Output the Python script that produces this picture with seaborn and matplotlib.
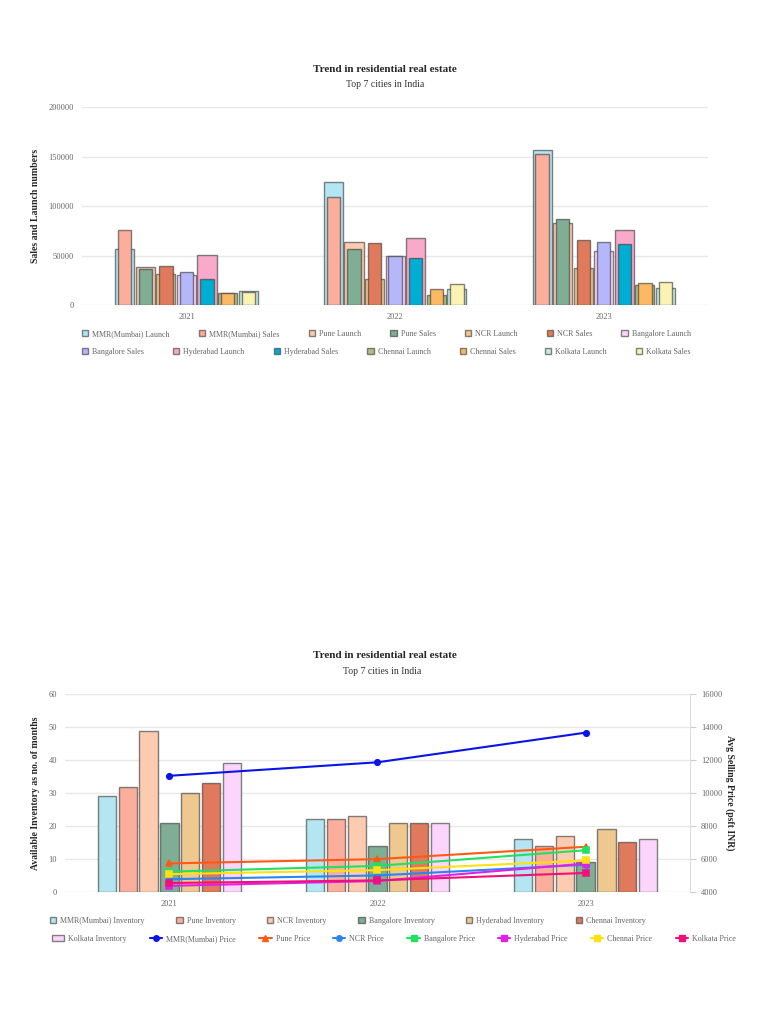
import numpy as np
import pandas as pd
import matplotlib
matplotlib.use("Agg")
import matplotlib.pyplot as plt
from matplotlib.patches import Patch
from matplotlib.lines import Line2D
import seaborn as sns

# ---- datos ----
years = ["2021", "2022", "2023"]
cities = ["MMR(Mumbai)", "Pune", "NCR", "Bangalore", "Hyderabad", "Chennai", "Kolkata"]

# lanzamientos / ventas por ciudad (2021, 2022, 2023)
mmr_launch = [57000, 124000, 157000]
mmr_sales = [76000, 109000, 153000]
pune_launch = [39000, 64000, 83000]
pune_sales = [36000, 57000, 87000]
ncr_launch = [31000, 26000, 37000]
ncr_sales = [40000, 63000, 66000]
blr_launch = [30000, 50000, 54500]
blr_sales = [33000, 49500, 64000]
hyd_launch = [51000, 68000, 76000]
hyd_sales = [26000, 47500, 62000]
che_launch = [12500, 10000, 20000]
che_sales = [12500, 16000, 22000]
kol_launch = [14000, 16000, 17000]
kol_sales = [13500, 21000, 23000]

# inventario en meses
mmr_inv = [29, 22, 16]
pune_inv = [32, 22, 14]
ncr_inv = [49, 23, 17]
blr_inv = [21, 14, 9]
hyd_inv = [30, 21, 19]
che_inv = [33, 21, 15]
kol_inv = [39, 21, 16]

# precio medio (psft INR)
mmr_price = [11050, 11870, 13670]
pune_price = [5730, 5990, 6740]
ncr_price = [4770, 5000, 5650]
blr_price = [5230, 5580, 6530]
hyd_price = [4370, 4660, 5720]
che_price = [5080, 5320, 5910]
kol_price = [4540, 4700, 5150]

launch = [mmr_launch, pune_launch, ncr_launch, blr_launch, hyd_launch, che_launch, kol_launch]
sales = [mmr_sales, pune_sales, ncr_sales, blr_sales, hyd_sales, che_sales, kol_sales]
inventory = [mmr_inv, pune_inv, ncr_inv, blr_inv, hyd_inv, che_inv, kol_inv]
prices = [mmr_price, pune_price, ncr_price, blr_price, hyd_price, che_price, kol_price]

launch_colors = ["#b3e5f2", "#fdcbb0", "#eec88f", "#fcd5fc", "#f9aacb", "#abc37c", "#c4ebe6"]
sales_colors = ["#fbae9b", "#7fae94", "#e07a5c", "#b5b7fa", "#00aed3", "#fcb862", "#fcf2b4"]
inv_colors = ["#b3e5f2", "#fbae9b", "#fdcbb0", "#7fae94", "#eec88f", "#e07a5c", "#fcd5fc"]
price_colors = ["#0a14e6", "#ff5a14", "#2a86f0", "#22e060", "#e020e8", "#ffe010", "#f0107a"]
price_markers = ["o", "^", "o", "s", "s", "s", "s"]


def long_table(values, col):
    rows = []
    for c, vals in zip(cities, values):
        for y, v in zip(years, vals):
            rows.append({"year": y, "city": c, col: v})
    return pd.DataFrame(rows)


df_launch = long_table(launch, "value")
df_sales = long_table(sales, "value")
df_inv = long_table(inventory, "value")
df_price = long_table(prices, "price")

sns.set_style("white")
plt.rcParams["font.family"] = ["Liberation Serif", "DejaVu Serif"]

fig = plt.figure(figsize=(7.68, 10.24), dpi=100)
edge = (0.25, 0.25, 0.25, 0.65)
grey = "#666666"

# ---- grafica superior ----
ax1 = fig.add_axes([0.107, 0.702, 0.815, 0.1935])
sns.barplot(data=df_launch, x="year", y="value", hue="city", hue_order=cities,
            palette=dict(zip(cities, launch_colors)), width=0.69, gap=0.07, saturation=1,
            edgecolor=edge, linewidth=1, legend=False, ax=ax1, zorder=2)
sns.barplot(data=df_sales, x="year", y="value", hue="city", hue_order=cities,
            palette=dict(zip(cities, sales_colors)), width=0.69, gap=0.35, saturation=1,
            edgecolor=edge, linewidth=1, legend=False, ax=ax1, zorder=3)
ax1.set_ylim(0, 200000)
ax1.set_yticks([0, 50000, 100000, 150000, 200000])
ax1.set_xlabel("")
ax1.set_ylabel("Sales and Launch numbers", fontsize=7, fontweight="bold")
ax1.yaxis.set_label_coords(-0.067, 0.5)
ax1.grid(axis="y", color="#e8e8e8", linewidth=1, zorder=0)
ax1.set_axisbelow(True)
for s in ax1.spines.values():
    s.set_visible(False)
ax1.tick_params(axis="both", labelsize=6, colors=grey, length=0, pad=6)

fig.text(0.501, 0.9326, "Trend in residential real estate", ha="center", va="center",
         fontsize=8, fontweight="bold")
fig.text(0.501, 0.917, "Top 7 cities in India", ha="center", va="center", fontsize=7, color="#333333")

handles = []
for c, lc, sc in zip(cities, launch_colors, sales_colors):
    handles.append(Patch(facecolor=lc, edgecolor=edge, label=c + " Launch"))
    handles.append(Patch(facecolor=sc, edgecolor=edge, label=c + " Sales"))
leg_kw = dict(frameon=False, fontsize=5.8, labelcolor=grey, handlelength=0.8, handleheight=0.8,
              handletextpad=0.5, columnspacing=3.6, loc="center")
fig.legend(handles=handles[:7], ncol=7, bbox_to_anchor=(0.503, 1 - 334 / 1024), **leg_kw)
fig.legend(handles=handles[7:], ncol=7, bbox_to_anchor=(0.503, 1 - 352 / 1024), **leg_kw)

# ---- grafica inferior ----
ax3 = fig.add_axes([0.085, 0.129, 0.813, 0.193])
sns.barplot(data=df_inv, x="year", y="value", hue="city", hue_order=cities,
            palette=dict(zip(cities, inv_colors)), width=0.7, gap=0.12, saturation=1,
            edgecolor=edge, linewidth=1, legend=False, ax=ax3, zorder=2)
ax3.set_ylim(0, 60)
ax3.set_yticks(range(0, 61, 10))
ax3.set_xlabel("")
ax3.set_ylabel("Available Inventory as no. of months", fontsize=7, fontweight="bold")
ax3.yaxis.set_label_coords(-0.04, 0.5)
ax3.grid(axis="y", color="#e8e8e8", linewidth=1, zorder=0)
ax3.set_axisbelow(True)
for s in ax3.spines.values():
    s.set_visible(False)
ax3.tick_params(axis="both", labelsize=6, colors=grey, length=0, pad=6)

ax4 = ax3.twinx()
sns.pointplot(data=df_price, x="year", y="price", hue="city", hue_order=cities,
              palette=dict(zip(cities, price_colors)), markers=price_markers,
              linestyles="-", errorbar=None, dodge=False, markersize=4, linewidth=1.5,
              legend=False, ax=ax4)
ax4.set_ylim(4000, 16000)
ax4.set_yticks(range(4000, 16001, 2000))
ax4.grid(False)
ax4.set_ylabel("Avg Selling Price (psft INR)", fontsize=7, fontweight="bold", rotation=-90)
ax4.yaxis.set_label_coords(1.072, 0.5)
for k, s in ax4.spines.items():
    s.set_visible(k == "right")
ax4.spines["right"].set_color("#dddddd")
ax4.tick_params(axis="y", labelsize=6, colors=grey, length=4, pad=4)
ax4.tick_params(axis="y", color="#cccccc")

fig.text(0.501, 0.3594, "Trend in residential real estate", ha="center", va="center",
         fontsize=8, fontweight="bold")
fig.text(0.498, 0.3447, "Top 7 cities in India", ha="center", va="center", fontsize=7, color="#333333")

inv_handles = [Patch(facecolor=c, edgecolor=edge, label=n + " Inventory") for n, c in zip(cities, inv_colors)]
price_handles = [Line2D([0], [0], color=c, marker=m, markersize=4, linewidth=1.5, label=n + " Price")
                 for n, c, m in zip(cities, price_colors, price_markers)]
leg_kw2 = dict(frameon=False, fontsize=5.8, labelcolor=grey, handleheight=0.8,
               handletextpad=0.5, loc="center")
fig.legend(handles=inv_handles[:6], ncol=6, bbox_to_anchor=(348 / 768, 1 - 921 / 1024),
           handlelength=0.8, columnspacing=3.9, **leg_kw2)
row2 = inv_handles[6:] + price_handles
fig.legend(handles=row2, ncol=8, bbox_to_anchor=(394 / 768, 1 - 939 / 1024),
           handlelength=1.5, columnspacing=2.9, **leg_kw2)

fig.savefig("out.png", dpi=100, facecolor="white")
